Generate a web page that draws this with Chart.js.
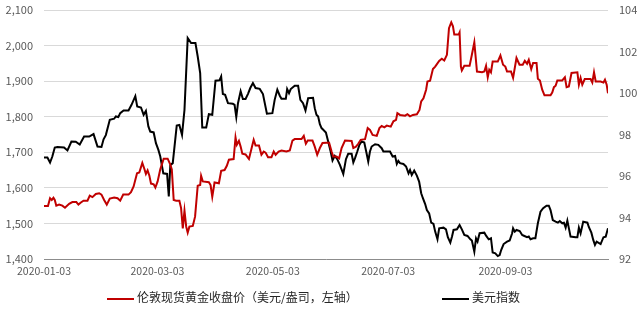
<!DOCTYPE html>
<html>
<head>
<meta charset="utf-8">
<script src="https://cdn.jsdelivr.net/npm/chart.js@4/dist/chart.umd.min.js"></script>
<style>
  html, body { margin: 0; padding: 0; background: #fff; }
  #wrap { position: relative; width: 643px; height: 312px; }
  #legend { position: absolute; left: 0; top: 288px; width: 643px; height: 20px;
            font: 12px "Noto Sans CJK SC", sans-serif; color: #262626; }
  .item { position: absolute; top: 0; line-height: 18px; white-space: nowrap; }
  .swatch { display: inline-block; width: 27px; height: 2px; vertical-align: middle; margin-right: 3px; }
</style>
</head>
<body>
<div id="wrap">
  <canvas id="chart" width="643" height="312"></canvas>
  <div id="legend"></div>
</div>
<script>
// days counted from 2020-01-03
const tickDates = ['2020-01-03', '2020-03-03', '2020-05-03', '2020-07-03', '2020-09-03'];

const goldLabel = '伦敦现货黄金收盘价（美元/盎司，左轴）';
const goldDays = [0, 2.1, 3.2, 4.1, 5.0, 5.7, 6.5, 8.0, 9.7, 11.1, 13.3, 15.0, 17.1, 18.2, 19.5, 20.9, 23.0, 24.2, 25.6, 27.4,
  29.2, 30.4, 31.8, 33.2, 34.8, 37.1, 38.9, 40.3, 41.9, 44.7, 46.0, 47.4, 49.2, 50.4, 52.0, 53.1, 53.9, 54.8, 55.7, 56.6,
  58.0, 58.9, 60.1, 61.5, 63.3, 65.4, 66.7, 67.6, 68.6, 69.9, 71.6, 72.5, 73.4, 74.3, 75.2, 76.0, 76.9, 78.7, 79.9, 81.3,
  82.6, 83.1, 84.0, 87.2, 88.1, 89.0, 90.2, 92.5, 93.7, 95.5, 96.7, 97.8, 100.3, 101.3, 102.0, 103.1, 104.0, 104.9, 106.6, 108.4,
  109.6, 110.9, 111.9, 113.7, 115.0, 116.2, 117.2, 118.5, 120.3, 121.5, 122.5, 124.1, 125.6, 128.2, 130.0, 131.4, 132.6, 136.2, 137.4, 138.5,
  139.5, 142.0, 143.2, 144.5, 145.9, 147.3, 149.4, 150.8, 152.1, 153.0, 154.7, 156.1, 157.4, 159.2, 162.7, 163.6, 165.0, 166.2, 167.5, 169.8,
  171.2, 172.4, 173.8, 176.0, 177.4, 178.6, 180.0, 181.3, 183.4, 184.8, 186.2, 186.9, 188.3, 191.0, 192.2, 193.6, 195.1, 197.2, 198.6, 199.5,
  200.7, 202.1, 202.8, 204.2, 205.7, 206.9, 209.0, 210.4, 211.7, 213.1, 214.2, 215.4, 216.3, 217.0, 219.3, 219.8, 220.5, 221.0, 222.3, 225.1,
  226.3, 227.6, 229.0, 231.7, 232.9, 233.8, 234.7, 235.5, 236.4, 237.3, 240.0, 241.4, 242.8, 244.0, 244.9, 247.0, 248.1, 249.9, 251.5, 253.2,
  254.3, 255.5, 256.4, 257.7, 258.7, 260.5, 261.2, 262.3, 263.5, 264.7, 267.9, 268.8, 269.7, 270.6, 271.5, 274.1, 275.5, 276.4, 277.6, 279.0,
  282.1, 282.9, 283.8, 284.7, 286.0, 289.1, 290.0, 290.9, 291.8, 294.4, 295.9, 296.7, 297.6, 298.3];
const goldPrice = [1549, 1549, 1571, 1566, 1572, 1566, 1550, 1553, 1550, 1544, 1555, 1560, 1560, 1553, 1559, 1564, 1564, 1578, 1574, 1583,
  1585, 1581, 1566, 1553, 1570, 1573, 1571, 1564, 1581, 1581, 1588, 1604, 1641, 1643, 1670, 1653, 1639, 1649, 1635, 1612,
  1610, 1601, 1618, 1652, 1682, 1682, 1667, 1652, 1566, 1564, 1564, 1543, 1486, 1536, 1491, 1474, 1491, 1493, 1519, 1606,
  1608, 1634, 1618, 1616, 1608, 1575, 1615, 1613, 1648, 1650, 1662, 1679, 1681, 1742, 1721, 1732, 1716, 1696, 1694, 1681,
  1707, 1735, 1719, 1719, 1693, 1702, 1699, 1686, 1686, 1702, 1693, 1702, 1705, 1702, 1705, 1733, 1737, 1737, 1746, 1724,
  1733, 1733, 1716, 1693, 1712, 1726, 1727, 1727, 1702, 1688, 1688, 1683, 1712, 1733, 1732, 1712, 1716, 1724, 1735, 1737,
  1768, 1763, 1749, 1746, 1768, 1774, 1770, 1775, 1772, 1787, 1791, 1810, 1805, 1803, 1807, 1801, 1805, 1807, 1819, 1843,
  1852, 1876, 1899, 1901, 1934, 1941, 1957, 1963, 1958, 1974, 2049, 2065, 2054, 2031, 2031, 2037, 1941, 1930, 1943, 1943,
  1974, 2009, 1927, 1925, 1927, 1943, 1911, 1932, 1925, 1955, 1955, 1972, 1946, 1941, 1927, 1927, 1909, 1965, 1946, 1946,
  1957, 1949, 1960, 1934, 1951, 1951, 1907, 1902, 1876, 1860, 1860, 1868, 1883, 1887, 1902, 1902, 1911, 1883, 1885, 1923,
  1925, 1890, 1909, 1890, 1906, 1906, 1896, 1925, 1899, 1899, 1896, 1904, 1890, 1866];

const usdLabel = '美元指数';
const usdDays = [0, 1.8, 3.2, 4.4, 5.7, 7.1, 10.6, 12.4, 14.5, 16.8, 18.9, 21.2, 23.9, 26.2, 28.3, 30.4, 31.5, 32.7, 34.8, 37.1,
  38.0, 39.3, 40.3, 42.1, 44.7, 46.3, 48.3, 49.3, 51.3, 52.7, 53.9, 55.2, 56.2, 58.0, 59.2, 60.5, 61.5, 63.1, 65.1, 66.0,
  66.8, 68.1, 70.2, 71.6, 73.0, 74.3, 76.0, 77.8, 80.1, 81.3, 82.6, 83.7, 85.8, 87.2, 89.0, 90.7, 92.8, 93.7, 94.6, 95.8,
  97.3, 99.9, 100.8, 101.7, 102.6, 104.0, 105.2, 106.6, 107.9, 109.1, 110.5, 111.9, 114.1, 115.8, 117.9, 120.8, 122.0, 123.4, 124.7, 125.6,
  127.9, 128.6, 129.6, 130.5, 132.6, 134.4, 135.6, 137.0, 138.3, 139.7, 142.3, 143.2, 144.1, 145.0, 145.9, 146.8, 147.7, 149.1, 150.3, 151.6,
  152.6, 153.8, 155.1, 156.5, 158.3, 159.7, 160.9, 162.7, 163.6, 164.5, 165.7, 166.8, 168.0, 169.4, 170.6, 171.5, 172.4, 173.3, 175.1, 176.8,
  178.6, 179.5, 183.0, 184.4, 185.7, 186.6, 187.4, 188.3, 190.1, 191.5, 192.8, 193.6, 194.5, 195.8, 197.2, 198.4, 199.5, 200.4, 201.6, 202.5,
  203.7, 204.8, 206.0, 206.9, 208.1, 209.0, 211.3, 212.6, 213.6, 214.9, 215.8, 216.6, 218.4, 219.8, 221.0, 222.3, 224.0, 225.5, 226.3, 227.6,
  228.5, 229.3, 230.4, 232.9, 233.9, 235.2, 236.4, 237.3, 238.7, 240.0, 241.0, 241.8, 243.1, 244.9, 246.3, 247.6, 248.1, 249.0, 249.9, 251.6,
  252.9, 254.1, 255.5, 256.4, 257.3, 258.7, 259.9, 261.2, 262.6, 264.0, 265.8, 267.0, 267.9, 269.1, 270.6, 271.8, 272.8, 274.1, 275.0, 275.9,
  276.8, 278.5, 281.2, 282.1, 282.9, 283.8, 285.2, 287.4, 288.2, 289.5, 290.5, 291.4, 292.3, 294.4, 295.9, 297.1, 298.3];
const usdIndex = [96.89, 96.89, 96.65, 96.94, 97.37, 97.40, 97.37, 97.23, 97.66, 97.65, 97.52, 97.90, 97.90, 98.02, 97.42, 97.40, 97.77, 97.97, 98.71, 98.76,
  98.87, 98.84, 99.03, 99.16, 99.16, 99.43, 99.85, 99.35, 99.30, 98.95, 99.14, 98.39, 98.14, 98.10, 97.58, 97.26, 96.94, 96.13, 96.10, 95.01,
  96.52, 96.62, 98.43, 98.46, 97.98, 99.19, 102.65, 102.41, 102.41, 101.76, 100.96, 98.34, 98.34, 98.98, 98.95, 100.59, 100.61, 100.80, 99.95, 99.91,
  99.51, 99.48, 99.43, 98.84, 99.51, 100.08, 99.71, 99.71, 99.96, 100.24, 100.48, 100.24, 100.20, 99.95, 99.00, 99.03, 99.67, 100.16, 99.87, 99.72,
  99.72, 100.19, 99.99, 100.19, 100.35, 100.35, 99.67, 99.51, 99.16, 99.75, 99.77, 99.27, 98.95, 98.87, 98.50, 98.31, 98.23, 98.10, 97.66, 97.18,
  96.75, 96.97, 96.81, 96.54, 96.10, 96.81, 97.07, 97.07, 96.65, 96.86, 97.18, 97.50, 97.66, 97.61, 97.10, 96.70, 97.18, 97.42, 97.53, 97.50,
  97.34, 97.18, 97.18, 96.94, 96.97, 96.58, 96.73, 96.62, 96.58, 96.46, 96.13, 96.29, 96.05, 96.26, 96.02, 95.73, 95.17, 94.93, 94.65, 94.36,
  94.20, 93.75, 93.69, 93.32, 92.95, 93.48, 93.51, 93.43, 93.05, 92.79, 93.08, 93.40, 93.43, 93.64, 93.43, 93.16, 93.11, 92.95, 92.89, 92.35,
  93.00, 92.84, 93.24, 93.27, 93.11, 92.95, 93.00, 92.31, 92.27, 92.14, 92.19, 92.43, 92.72, 92.84, 92.89, 93.24, 93.48, 93.32, 93.40, 93.35,
  93.16, 93.11, 93.05, 93.08, 92.95, 93.00, 93.00, 93.72, 94.28, 94.45, 94.57, 94.57, 94.36, 93.88, 93.80, 93.75, 93.83, 93.72, 93.75, 93.51,
  93.85, 93.08, 93.05, 93.05, 93.51, 93.24, 93.80, 93.75, 93.53, 93.27, 92.92, 92.68, 92.84, 92.72, 93.05, 93.08, 93.48];

const DAY = 86400000;
const START = Date.UTC(2020, 0, 3);
const toDay = s => (Date.parse(s + 'T00:00:00Z') - START) / DAY;
const fmtDay = d => new Date(START + Math.round(d) * DAY).toISOString().slice(0, 10);
const tickDays = tickDates.map(toDay);

const goldColor = '#c00000';
const usdColor = '#000000';
const labelColor = '#595959';

Chart.defaults.font.family = '"Noto Sans CJK SC", sans-serif';
Chart.defaults.font.size = 11;
Chart.defaults.color = labelColor;

// fixed axis sizes so the plot sits where the original's does
function fixY(width) {
  return scale => {
    scale.width = width;
    scale.paddingTop = 0;
    scale.paddingBottom = 0;
  };
}

new Chart(document.getElementById('chart'), {
  type: 'line',
  data: {
    datasets: [{
      label: goldLabel,
      data: goldDays.map((d, i) => ({ x: d, y: goldPrice[i] })),
      borderColor: goldColor,
      borderWidth: 2,
      pointRadius: 0,
      tension: 0,
      yAxisID: 'y'
    }, {
      label: usdLabel,
      data: usdDays.map((d, i) => ({ x: d, y: usdIndex[i] })),
      borderColor: usdColor,
      borderWidth: 2,
      pointRadius: 0,
      tension: 0,
      yAxisID: 'y1'
    }]
  },
  options: {
    responsive: false,
    devicePixelRatio: 1,
    animation: false,
    layout: { padding: { top: 10, left: 0, right: 0, bottom: 0 } },
    plugins: { legend: { display: false }, tooltip: { enabled: false } },
    scales: {
      x: {
        type: 'linear',
        min: 0,
        max: 298.3,
        grid: { display: false, drawTicks: false },
        border: { display: true, color: '#8c8c8c', width: 1 },
        afterBuildTicks: scale => { scale.ticks = tickDays.map(v => ({ value: v })); },
        afterFit: scale => {
          scale.height = 53;
          scale.paddingLeft = 0;
          scale.paddingRight = 0;
        },
        ticks: {
          autoSkip: false,
          maxRotation: 0,
          padding: 6,
          font: { size: 10.5 },
          callback: v => fmtDay(v)
        }
      },
      y: {
        position: 'left',
        min: 1400,
        max: 2100,
        grid: { color: '#d9d9d9', drawTicks: false },
        border: { display: false },
        afterFit: fixY(44),
        ticks: {
          stepSize: 100,
          padding: 11,
          callback: v => v.toLocaleString('en-US')
        }
      },
      y1: {
        position: 'right',
        min: 92,
        max: 104,
        grid: { display: false, drawTicks: false },
        border: { display: false },
        afterFit: fixY(35),
        ticks: { stepSize: 2, padding: 11 }
      }
    }
  }
});

// legend as plain text below the chart
const legend = document.getElementById('legend');
[[goldLabel, goldColor, 107], [usdLabel, usdColor, 442]].forEach(([text, color, left]) => {
  const item = document.createElement('div');
  item.className = 'item';
  item.style.left = left + 'px';
  item.innerHTML = `<span class="swatch" style="background:${color}"></span>${text}`;
  legend.appendChild(item);
});
</script>
</body>
</html>
